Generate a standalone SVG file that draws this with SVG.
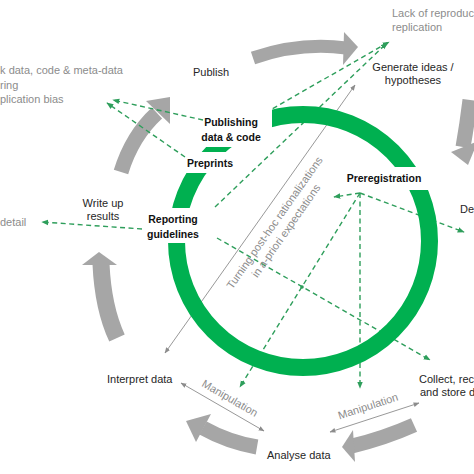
<svg xmlns="http://www.w3.org/2000/svg" width="474" height="474" viewBox="0 0 474 474">
<defs>
<style>
text{font-family:"Liberation Sans",Arial,sans-serif;}
.lbl{font-size:11px;fill:#262626;}
.b{font-size:10.5px;font-weight:bold;fill:#111;}
.g{font-size:11px;fill:#8c8c8c;}
.rot{font-size:11px;fill:#8c8c8c;}
.dash{fill:none;stroke:#2e9e5b;stroke-width:1.4;stroke-dasharray:5 3.5;marker-end:url(#ga);}
.thin{fill:none;stroke:#8c8c8c;stroke-width:0.9;marker-end:url(#gr);marker-start:url(#gr);}
.body{fill:none;stroke:#a6a6a6;}
.head{fill:#a6a6a6;}
.box{fill:#fff;}
</style>
<marker id="ga" viewBox="0 0 10 10" refX="9" refY="5" markerWidth="7" markerHeight="7" markerUnits="userSpaceOnUse" orient="auto"><path d="M0,1 L10,5 L0,9 z" fill="#2e9e5b"/></marker>
<marker id="gr" viewBox="0 0 10 10" refX="9" refY="5" markerWidth="6" markerHeight="6" markerUnits="userSpaceOnUse" orient="auto-start-reverse"><path d="M0,1 L10,5 L0,9 z" fill="#8c8c8c"/></marker>
</defs>
<rect width="474" height="474" fill="#fff"/>

<g id="cycle-arrows">
<path class="body" stroke-width="13" d="M253,58 Q300,42 346,48"/>
<polygon class="head" points="344,32 358,47 343,65"/>
<path class="body" stroke-width="15" d="M121,172 Q132,136 157,113"/>
<polygon class="head" points="146,101 170,97 170,124"/>
<path class="body" stroke-width="17" d="M101,264 Q103,308 117,338"/>
<polygon class="head" points="82,265 99,252 117,265"/>
<path class="body" stroke-width="15" d="M203,428 Q228,442 257,447"/>
<polygon class="head" points="211,414 186,421 196,442"/>
<path class="body" stroke-width="15" d="M352,446 Q385,438 414,425"/>
<polygon class="head" points="353,430 342,447 355,462"/>
<path class="body" stroke-width="15" d="M470,100 Q467,125 463,147"/>
<polygon class="head" points="451,152 468,165 478,141"/>
</g>

<g id="connectors">
<path class="dash" d="M203,120 L113,100"/>
<path class="dash" d="M185,157 L107,103"/>
<path class="dash" d="M258,117 L389,42"/>
<path class="dash" d="M215,207 L387,43"/>
<path class="dash" d="M142,229 L42,222"/>
<path class="dash" d="M217,238 L430,360"/>
<path class="dash" d="M360,193 L334,197"/>
<path class="dash" d="M360,193 L464,232"/>
<path class="dash" d="M360,193 L360,388"/>
<path class="dash" d="M360,193 L240,387"/>
<circle cx="302" cy="287" r="1.8" fill="#2e9e5b"/>
<path class="thin" d="M165,353 L355,85"/>
<path class="thin" d="M181,383 L264,431"/>
<path class="thin" d="M330,432 L419,403"/>
</g>

<g id="ring">
<circle cx="303" cy="241" r="126.5" fill="none" stroke="#00b050" stroke-width="17"/>
<rect class="box" x="204" y="100" width="68" height="47"/>
<rect class="box" x="186" y="152" width="62" height="21"/>
<rect class="box" x="146" y="208" width="64" height="35"/>
<rect class="box" x="340" y="167" width="105" height="23"/>
</g>

<g id="publishing"><text class="b" x="231" y="126" text-anchor="middle">Publishing</text><text class="b" x="231" y="141" text-anchor="middle">data &amp; code</text></g>
<g id="preprints"><text class="b" x="210" y="167" text-anchor="middle">Preprints</text></g>
<g id="reporting"><text class="b" x="173" y="223" text-anchor="middle">Reporting</text><text class="b" x="173" y="238" text-anchor="middle">guidelines</text></g>
<g id="preregistration"><text class="b" x="384" y="182" text-anchor="middle">Preregistration</text></g>

<g id="publish"><text class="lbl" x="193" y="76">Publish</text></g>
<g id="generate"><text class="lbl" x="413" y="71" text-anchor="middle">Generate ideas /</text><text class="lbl" x="413" y="84" text-anchor="middle">hypotheses</text></g>
<g id="design"><text class="lbl" x="460" y="213">De</text></g>
<g id="collect"><text class="lbl" x="419" y="383">Collect, rec</text><text class="lbl" x="420" y="396">and store d</text></g>
<g id="analyse"><text class="lbl" x="267" y="459">Analyse data</text></g>
<g id="interpret"><text class="lbl" x="107" y="383">Interpret data</text></g>
<g id="writeup"><text class="lbl" x="103" y="207" text-anchor="middle">Write up</text><text class="lbl" x="103" y="220" text-anchor="middle">results</text></g>

<g id="problems">
<text class="g" x="123" y="74" text-anchor="end">k data, code &amp; meta-data</text>
<text class="g" x="0" y="89">ring</text>
<text class="g" x="0" y="103">plication bias</text>
<text class="g" x="392" y="17">Lack of reproduc</text>
<text class="g" x="392" y="31">replication</text>
<text class="g" x="0" y="226">detail</text>
<text class="rot" x="230" y="402" text-anchor="middle" transform="rotate(30 230 398)">Manipulation</text>
<text class="rot" x="368" y="410" text-anchor="middle" transform="rotate(-18 368 406)">Manipulation</text>
<g transform="translate(277.6,224.9) rotate(-55)">
<text class="rot" x="0" y="0" text-anchor="middle">Turning post-hoc rationalizations</text>
<text class="rot" x="0" y="14" text-anchor="middle">in a-priori expectations</text>
</g>
</g>
</svg>
